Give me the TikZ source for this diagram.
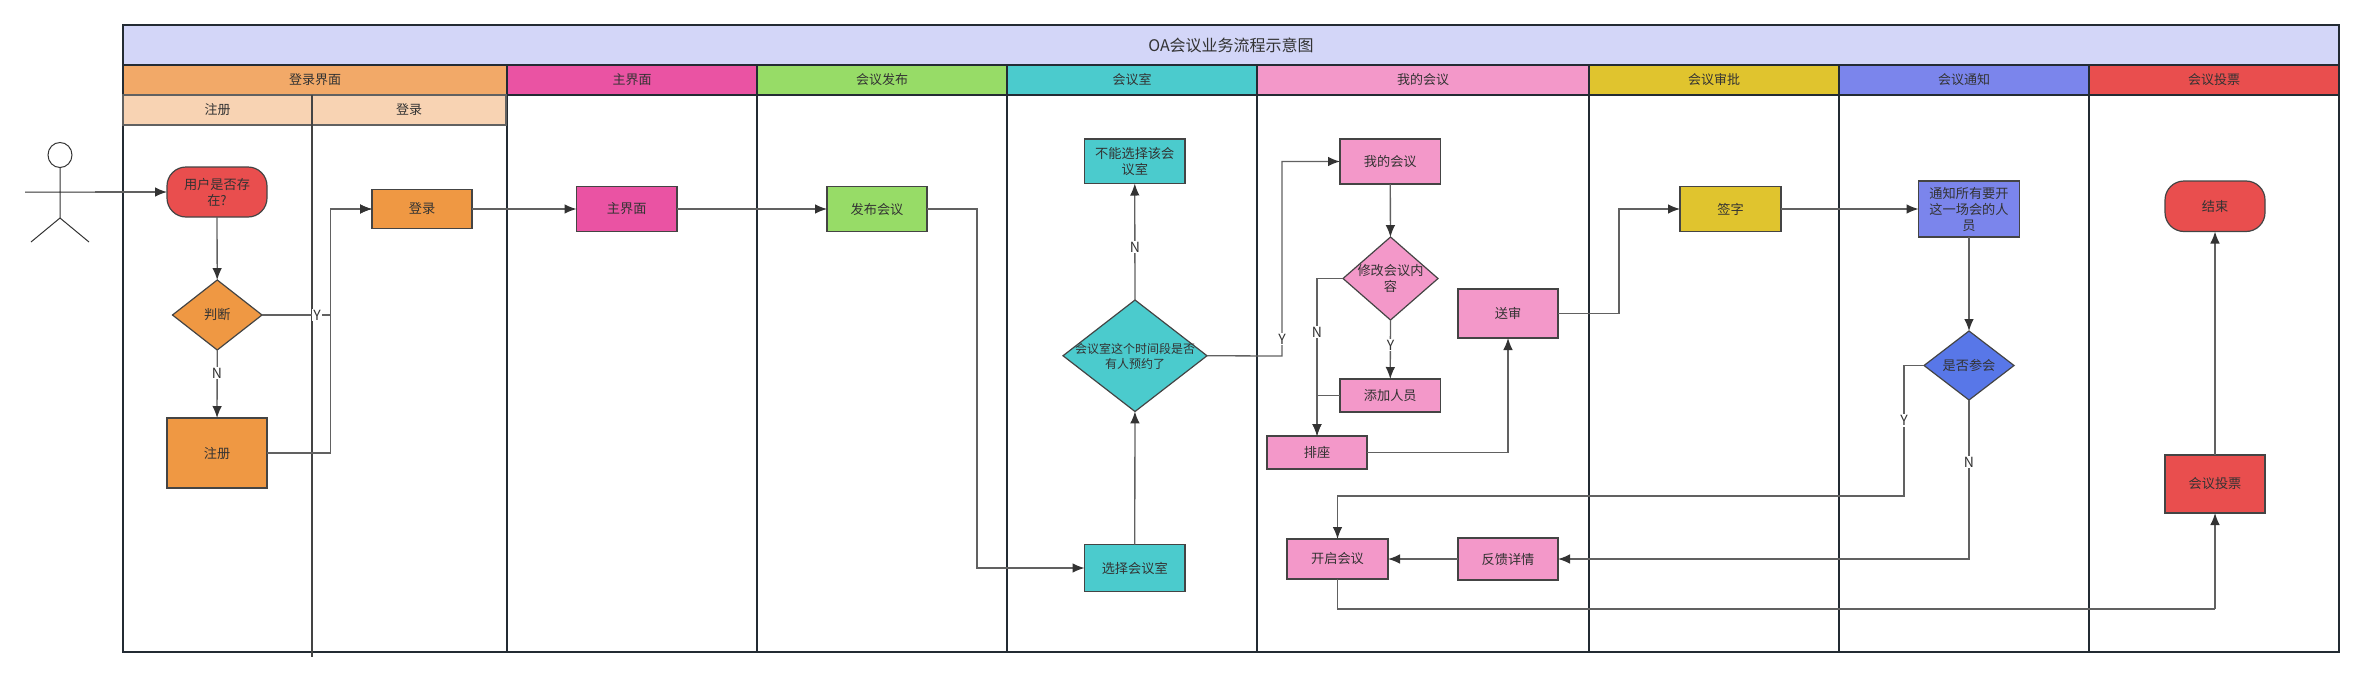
\documentclass[tikz,border=0pt]{standalone}
\usepackage{fontspec}
\setmainfont{Noto Sans CJK SC}
\usetikzlibrary{arrows.meta,shapes.geometric}
\definecolor{ink}{HTML}{333333}
\definecolor{lane}{HTML}{232B33}
\definecolor{wire}{HTML}{616161}
\definecolor{edgeb}{HTML}{444444}
\definecolor{ctitle}{HTML}{D3D6F8}
\definecolor{corange}{HTML}{F2A968}
\definecolor{csub}{HTML}{F8D3B3}
\definecolor{cnode}{HTML}{EF9843}
\definecolor{cred}{HTML}{E94E4E}
\definecolor{cmag}{HTML}{EA53A3}
\definecolor{cgreen}{HTML}{97DC67}
\definecolor{cteal}{HTML}{4BCBCD}
\definecolor{cpink}{HTML}{F398C9}
\definecolor{cyellow}{HTML}{E0C42E}
\definecolor{cviolet}{HTML}{7B85EC}
\definecolor{cblue}{HTML}{5877E8}
\newcommand\bx[7]{%
  \pgfmathsetmacro\bcx{(#2+#4)/2}%
  \pgfmathsetmacro\bcy{(#3+#5)/2}%
  \pgfmathsetmacro\bw{(#4-#2)*0.5}%
  \pgfmathsetmacro\bh{(#5-#3)*0.5}%
  \node[#6,minimum width=\bw pt,minimum height=\bh pt] (#1) at (\bcx,\bcy) {#7};}
\newcommand\zt[1]{\smash{\makebox[0pt]{\raisebox{-2.5pt}{\begin{tabular}{@{}c@{}}#1\end{tabular}}}}}
\tikzset{
  base/.style={draw=edgeb,line width=0.6pt,inner sep=0pt,outer sep=0pt,text=ink,align=center,
    font=\fontsize{6.6}{8}\selectfont},
  box/.style={base,rectangle},
  pill/.style={base,rectangle,rounded corners=9.5pt},
  dia/.style={base,diamond,aspect=1},
  head/.style={rectangle,draw=lane,line width=1pt,inner sep=0pt,outer sep=0pt,text=ink,
    font=\fontsize{6.5}{8}\selectfont},
  subhead/.style={head,draw=wire,fill=csub},
  lanebox/.style={draw=lane,line width=1pt,fill=none},
  conn/.style={draw=wire,line width=0.65pt,-{Latex[length=6pt,width=4.8pt,color=ink]}},
  plain/.style={draw=wire,line width=0.65pt},
  sepline/.style={draw=edgeb,line width=0.55pt},
  lab/.style={fill=white,inner sep=0.6pt,text=ink,font=\fontsize{7}{8}\selectfont},
  stick/.style={draw=ink,line width=0.5pt},
}
\begin{document}
\begin{tikzpicture}[x=0.5pt,y=-0.5pt]
\useasboundingbox (0,0) rectangle (2364,680);
% swimlanes
\bx{title}{123}{25}{2339}{65}{head,fill=ctitle}{\fontsize{8}{10}\selectfont OA会议业务流程示意图}
\bx{h1}{123}{65}{507}{94.5}{head,fill=corange}{登录界面}
\bx{h2}{507}{65}{757}{94.5}{head,fill=cmag}{主界面}
\bx{h3}{757}{65}{1007}{94.5}{head,fill=cgreen}{会议发布}
\bx{h4}{1007}{65}{1257}{94.5}{head,fill=cteal}{会议室}
\bx{h5}{1257}{65}{1589}{94.5}{head,fill=cpink}{我的会议}
\bx{h6}{1589}{65}{1839}{94.5}{head,fill=cyellow}{会议审批}
\bx{h7}{1839}{65}{2089}{94.5}{head,fill=cviolet}{会议通知}
\bx{h8}{2089}{65}{2339}{94.5}{head,fill=cred}{会议投票}
\draw[lanebox] (123,94.5) rectangle (507,652);
\draw[lanebox] (507,94.5) rectangle (757,652);
\draw[lanebox] (757,94.5) rectangle (1007,652);
\draw[lanebox] (1007,94.5) rectangle (1257,652);
\draw[lanebox] (1257,94.5) rectangle (1589,652);
\draw[lanebox] (1589,94.5) rectangle (1839,652);
\draw[lanebox] (1839,94.5) rectangle (2089,652);
\draw[lanebox] (2089,94.5) rectangle (2339,652);
\bx{s1}{123}{94.5}{312}{125}{subhead}{注册}
\bx{s2}{312}{94.5}{506}{125}{subhead}{登录}
\coordinate (sepend) at (312,656.5);
\draw[sepline] (s1.north east) -- (sepend);
% actor
\draw[stick] (60,155) ellipse (12 and 12.5);
\coordinate (neck) at (60,167.5);
\coordinate (hip) at (60,218);
\coordinate (armL) at (25,192);
\coordinate (armR) at (95,192);
\coordinate (legL) at (31,242);
\coordinate (legR) at (89,242);
\draw[stick] (neck) -- (hip) (armL) -- (armR) (legL) -- (hip) -- (legR);
% nodes
\bx{user}{167}{167}{267}{217}{pill,fill=cred}{用户是否存\\在?}
\bx{judge}{172.5}{280}{262}{350}{dia,fill=cnode}{\zt{判断}}
\bx{reg}{167}{418}{267}{488}{box,fill=cnode}{注册}
\bx{login}{372}{189.5}{472}{228.5}{box,fill=cnode}{登录}
\bx{mainui}{576.5}{186.5}{677}{231.5}{box,fill=cmag}{主界面}
\bx{pub}{827}{186.5}{927}{231.5}{box,fill=cgreen}{发布会议}
\bx{nosel}{1084.5}{139}{1185}{183.5}{box,fill=cteal}{不能选择该会\\议室}
\bx{booked}{1063}{300}{1207}{411.5}{dia,fill=cteal}{\fontsize{6}{7.5}\selectfont\zt{会议室这个时间段是否\\有人预约了}}
\bx{pick}{1084.5}{544.5}{1185}{591.5}{box,fill=cteal}{选择会议室}
\bx{mine}{1340}{139}{1440.5}{184}{box,fill=cpink}{我的会议}
\bx{edit}{1343}{237}{1438}{320}{dia,fill=cpink}{\zt{修改会议内\\容}}
\bx{addp}{1340}{379}{1440.5}{412}{box,fill=cpink}{添加人员}
\bx{seat}{1267}{436}{1367}{469}{box,fill=cpink}{排座}
\bx{send}{1458}{289}{1558}{338}{box,fill=cpink}{送审}
\bx{open}{1287}{539}{1388}{579}{box,fill=cpink}{开启会议}
\bx{fback}{1458}{538}{1558}{580}{box,fill=cpink}{反馈详情}
\bx{sign}{1680}{186.5}{1781}{231.5}{box,fill=cyellow}{签字}
\bx{notify}{1918.5}{181}{2019.5}{237}{box,fill=cviolet}{通知所有要开\\这一场会的人\\员}
\bx{attend}{1924}{331}{2014}{400}{dia,fill=cblue}{\zt{是否参会}}
\bx{finish}{2165}{181}{2265}{231.5}{pill,fill=cred}{结束}
\bx{vote}{2165}{455}{2265}{513}{box,fill=cred}{会议投票}
% bend points
\coordinate (b1) at (330.5,315);
\coordinate (b2) at (977,209);
\coordinate (b3) at (1282,356);
\coordinate (b4) at (1317,278.5);
\coordinate (b5) at (1508,452.5);
\coordinate (b6) at (1619,313.5);
\coordinate (b7) at (1904,365.5);
\coordinate (b8) at (1904,496);
\coordinate (b9) at (1337.5,496);
\coordinate (b10) at (1969,559);
\coordinate (b11) at (1337.5,609);
\coordinate (b12) at (2215,609);
% connectors
\draw[conn] (armR) -- (user.west |- armR);
\draw[conn] (user) -- (judge) ;
\draw[conn] (judge) -- (reg);
\draw[conn] (judge.east) -- (b1) |- (login.west);
\draw[conn] (reg.east) -| (b1) |- (login.west);
\draw[conn] (login) -- (mainui);
\draw[conn] (mainui) -- (pub);
\draw[conn] (pub.east) -- (b2) |- (pick.west);
\draw[conn] (pick) -- (booked);
\draw[conn] (booked) -- (nosel);
\draw[conn] (booked.east) -- (b3) |- (mine.west);
\draw[conn] (mine) -- (edit);
\draw[conn] (edit) -- (addp);
\draw[conn] (edit.west) -- (b4) -- (b4 |- seat.north);
\draw[conn] (addp.west) -| (b4 |- seat.north);
\draw[conn] (seat.east) -- (b5) -- (b5 |- send.south);
\draw[conn] (send.east) -- (b6) |- (sign.west);
\draw[conn] (sign.east |- login) -- (notify.west |- login);
\draw[conn] (notify) -- (attend);
\draw[conn] (attend.west) -- (b7) -- (b8) -- (b9) -- (open.north);
\draw[conn] (attend.south) -- (b10) -- (fback.east |- b10);
\draw[conn] (fback.west |- b10) -- (open.east |- b10);
\draw[plain] (open.south) -- (b11) -- (b12);
\draw[conn] (b12) -- (vote.south);
\draw[conn] (vote) -- (finish);
% labels
\node[lab] (ly1) at (317,315) {Y};
\node[lab] (ln1) at (217,373) {N};
\node[lab] (ln2) at (1135,247) {N};
\node[lab] (ly2) at (1282,339) {Y};
\node[lab] (ln3) at (1317,332) {N};
\node[lab] (ly3) at (1390.5,345) {Y};
\node[lab] (ly4) at (1904,420.5) {Y};
\node[lab] (ln4) at (1969,462) {N};
\end{tikzpicture}
\end{document}
